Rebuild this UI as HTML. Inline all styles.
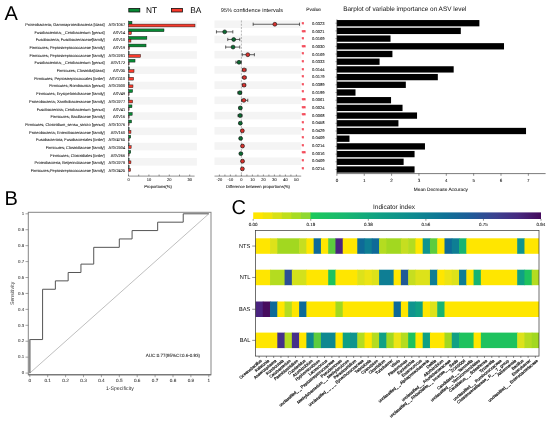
<!DOCTYPE html>
<html><head><meta charset="utf-8"><title>Figure</title>
<style>html,body{margin:0;padding:0;background:#fff}svg{display:block}text{font-family:"Liberation Sans",sans-serif;text-rendering:geometricPrecision}</style>
</head><body>
<svg width="550" height="421" viewBox="0 0 550 421">
<rect width="550" height="421" fill="#fff"/>
<text x="4.60" y="20.20" font-size="20" text-anchor="start" fill="#000" >A</text>
<text x="4.40" y="205.20" font-size="20" text-anchor="start" fill="#000" >B</text>
<text x="231.60" y="214.40" font-size="20" text-anchor="start" fill="#000" >C</text>
<rect x="128.8" y="8.4" width="11.0" height="3.6" fill="#078a34" stroke="#111" stroke-width="0.8"/>
<text x="146.00" y="12.50" font-size="8.3" text-anchor="start" fill="#000" >NT</text>
<rect x="171.4" y="8.4" width="11.0" height="3.6" fill="#f83a2c" stroke="#111" stroke-width="0.8"/>
<text x="190.30" y="12.50" font-size="8.3" text-anchor="start" fill="#000" >BA</text>
<text x="220.80" y="11.60" font-size="5.6" text-anchor="start" fill="#111" >95% confidence intervals</text>
<text x="306.30" y="11.30" font-size="4.8" text-anchor="start" fill="#111"  stroke="#111" stroke-width="0.06">Pvalue</text>
<text x="343.20" y="10.80" font-size="6.42" text-anchor="start" fill="#111" >Barplot of variable importance on ASV level</text>
<rect x="128.5" y="20.70" width="68.4" height="7.6" fill="#f4f4f4"/>
<rect x="214.5" y="20.45" width="86.7" height="7.61" fill="#f4f4f4"/>
<rect x="128.5" y="35.96" width="68.4" height="7.6" fill="#f4f4f4"/>
<rect x="214.5" y="35.66" width="86.7" height="7.61" fill="#f4f4f4"/>
<rect x="128.5" y="51.22" width="68.4" height="7.6" fill="#f4f4f4"/>
<rect x="214.5" y="50.88" width="86.7" height="7.61" fill="#f4f4f4"/>
<rect x="128.5" y="66.48" width="68.4" height="7.6" fill="#f4f4f4"/>
<rect x="214.5" y="66.10" width="86.7" height="7.61" fill="#f4f4f4"/>
<rect x="128.5" y="81.74" width="68.4" height="7.6" fill="#f4f4f4"/>
<rect x="214.5" y="81.32" width="86.7" height="7.61" fill="#f4f4f4"/>
<rect x="128.5" y="97.00" width="68.4" height="7.6" fill="#f4f4f4"/>
<rect x="214.5" y="96.55" width="86.7" height="7.61" fill="#f4f4f4"/>
<rect x="128.5" y="112.26" width="68.4" height="7.6" fill="#f4f4f4"/>
<rect x="214.5" y="111.77" width="86.7" height="7.61" fill="#f4f4f4"/>
<rect x="128.5" y="127.52" width="68.4" height="7.6" fill="#f4f4f4"/>
<rect x="214.5" y="126.99" width="86.7" height="7.61" fill="#f4f4f4"/>
<rect x="128.5" y="142.78" width="68.4" height="7.6" fill="#f4f4f4"/>
<rect x="214.5" y="142.20" width="86.7" height="7.61" fill="#f4f4f4"/>
<rect x="128.5" y="158.04" width="68.4" height="7.6" fill="#f4f4f4"/>
<rect x="214.5" y="157.43" width="86.7" height="7.61" fill="#f4f4f4"/>
<line x1="241.4" y1="20.45" x2="241.4" y2="176.1" stroke="#888" stroke-width="0.6" stroke-dasharray="2 1.3"/>
<text x="104.60" y="25.85" font-size="3.95" text-anchor="end" fill="#111"  stroke="#111" stroke-width="0.06">Proteobacteria; Gammaproteobacteria [class]</text>
<text x="125.20" y="25.85" font-size="3.95" text-anchor="end" fill="#111"  stroke="#111" stroke-width="0.06">ASV1067</text>
<rect x="128.5" y="21.30" width="3.47" height="2.8" fill="#078a34" stroke="#111" stroke-width="0.45"/>
<rect x="128.5" y="24.10" width="66.50" height="2.8" fill="#f83a2c" stroke="#111" stroke-width="0.45"/>
<path d="M253.17 24.25H299.48M253.17 22.65v3.2M299.48 22.65v3.2" stroke="#222" stroke-width="0.7" fill="none"/>
<circle cx="274.84" cy="24.25" r="1.95" fill="#d8322e" stroke="#111" stroke-width="0.6"/>
<text x="301.70" y="25.95" font-size="5.6" text-anchor="start" fill="#f23848" font-weight="bold" stroke="#f23848" stroke-width="0.25" letter-spacing="-0.3">*</text>
<text x="312.00" y="25.20" font-size="4.15" text-anchor="start" fill="#111"  stroke="#111" stroke-width="0.06">0.0323</text>
<rect x="336.9" y="20.05" width="142.49" height="6.3" fill="#000"/>
<line x1="335.4" y1="23.20" x2="336.9" y2="23.20" stroke="#222" stroke-width="0.4"/>
<text x="104.60" y="33.55" font-size="3.95" text-anchor="end" fill="#111"  stroke="#111" stroke-width="0.06">Fusobacteriota; _Cetobacterium [genus]</text>
<text x="125.20" y="33.55" font-size="3.95" text-anchor="end" fill="#111"  stroke="#111" stroke-width="0.06">ASV14</text>
<rect x="128.5" y="28.90" width="35.50" height="2.8" fill="#078a34" stroke="#111" stroke-width="0.45"/>
<rect x="128.5" y="31.70" width="2.86" height="2.8" fill="#f83a2c" stroke="#111" stroke-width="0.45"/>
<path d="M216.43 31.86H232.82M216.43 30.26v3.2M232.82 30.26v3.2" stroke="#222" stroke-width="0.7" fill="none"/>
<circle cx="224.68" cy="31.86" r="1.95" fill="#0b6a31" stroke="#111" stroke-width="0.6"/>
<text x="301.70" y="33.56" font-size="5.6" text-anchor="start" fill="#f23848" font-weight="bold" stroke="#f23848" stroke-width="0.25" letter-spacing="-0.3">**</text>
<text x="312.00" y="32.81" font-size="4.15" text-anchor="start" fill="#111"  stroke="#111" stroke-width="0.06">0.0021</text>
<rect x="336.9" y="27.75" width="123.90" height="6.3" fill="#000"/>
<line x1="335.4" y1="30.90" x2="336.9" y2="30.90" stroke="#222" stroke-width="0.4"/>
<text x="104.60" y="41.25" font-size="3.95" text-anchor="end" fill="#111"  stroke="#111" stroke-width="0.06">Fusobacteria; Fusobacteriaceae[family]</text>
<text x="125.20" y="41.25" font-size="3.95" text-anchor="end" fill="#111"  stroke="#111" stroke-width="0.06">ASV10</text>
<rect x="128.5" y="36.50" width="18.36" height="2.8" fill="#078a34" stroke="#111" stroke-width="0.45"/>
<rect x="128.5" y="39.30" width="2.45" height="2.8" fill="#f83a2c" stroke="#111" stroke-width="0.45"/>
<path d="M227.76 39.47H239.75M227.76 37.87v3.2M239.75 37.87v3.2" stroke="#222" stroke-width="0.7" fill="none"/>
<circle cx="233.70" cy="39.47" r="1.95" fill="#0b6a31" stroke="#111" stroke-width="0.6"/>
<text x="301.70" y="41.17" font-size="5.6" text-anchor="start" fill="#f23848" font-weight="bold" stroke="#f23848" stroke-width="0.25" letter-spacing="-0.3">*</text>
<text x="312.00" y="40.42" font-size="4.15" text-anchor="start" fill="#111"  stroke="#111" stroke-width="0.06">0.0169</text>
<rect x="336.9" y="35.45" width="53.61" height="6.3" fill="#000"/>
<line x1="335.4" y1="38.60" x2="336.9" y2="38.60" stroke="#222" stroke-width="0.4"/>
<text x="104.60" y="48.95" font-size="3.95" text-anchor="end" fill="#111"  stroke="#111" stroke-width="0.06">Firmicutes; Peptostreptococcaceae [family]</text>
<text x="125.20" y="48.95" font-size="3.95" text-anchor="end" fill="#111"  stroke="#111" stroke-width="0.06">ASV19</text>
<rect x="128.5" y="44.10" width="17.54" height="2.8" fill="#078a34" stroke="#111" stroke-width="0.45"/>
<rect x="128.5" y="46.90" width="0.82" height="2.8" fill="#f83a2c" stroke="#111" stroke-width="0.45"/>
<path d="M225.67 47.08H239.75M225.67 45.48v3.2M239.75 45.48v3.2" stroke="#222" stroke-width="0.7" fill="none"/>
<circle cx="233.04" cy="47.08" r="1.95" fill="#0b6a31" stroke="#111" stroke-width="0.6"/>
<text x="301.70" y="48.78" font-size="5.6" text-anchor="start" fill="#f23848" font-weight="bold" stroke="#f23848" stroke-width="0.25" letter-spacing="-0.3">**</text>
<text x="312.00" y="48.03" font-size="4.15" text-anchor="start" fill="#111"  stroke="#111" stroke-width="0.06">0.0030</text>
<rect x="336.9" y="43.15" width="167.11" height="6.3" fill="#000"/>
<line x1="335.4" y1="46.30" x2="336.9" y2="46.30" stroke="#222" stroke-width="0.4"/>
<text x="104.60" y="56.65" font-size="3.95" text-anchor="end" fill="#111"  stroke="#111" stroke-width="0.06">Firmicutes; Peptostreptococcaceae [family]</text>
<text x="125.20" y="56.65" font-size="3.95" text-anchor="end" fill="#111"  stroke="#111" stroke-width="0.06">ASV2281</text>
<rect x="128.5" y="51.70" width="0.61" height="2.8" fill="#078a34" stroke="#111" stroke-width="0.45"/>
<rect x="128.5" y="54.50" width="12.04" height="2.8" fill="#f83a2c" stroke="#111" stroke-width="0.45"/>
<path d="M242.28 54.69H254.38M242.28 53.09v3.2M254.38 53.09v3.2" stroke="#222" stroke-width="0.7" fill="none"/>
<circle cx="247.78" cy="54.69" r="1.95" fill="#d8322e" stroke="#111" stroke-width="0.6"/>
<text x="301.70" y="56.39" font-size="5.6" text-anchor="start" fill="#f23848" font-weight="bold" stroke="#f23848" stroke-width="0.25" letter-spacing="-0.3">*</text>
<text x="312.00" y="55.64" font-size="4.15" text-anchor="start" fill="#111"  stroke="#111" stroke-width="0.06">0.0169</text>
<rect x="336.9" y="50.85" width="55.52" height="6.3" fill="#000"/>
<line x1="335.4" y1="54.00" x2="336.9" y2="54.00" stroke="#222" stroke-width="0.4"/>
<text x="104.60" y="64.35" font-size="3.95" text-anchor="end" fill="#111"  stroke="#111" stroke-width="0.06">Fusobacteriota; _Cetobacterium [genus]</text>
<text x="125.20" y="64.35" font-size="3.95" text-anchor="end" fill="#111"  stroke="#111" stroke-width="0.06">ASV172</text>
<rect x="128.5" y="59.30" width="6.53" height="2.8" fill="#078a34" stroke="#111" stroke-width="0.45"/>
<rect x="128.5" y="62.10" width="0.61" height="2.8" fill="#f83a2c" stroke="#111" stroke-width="0.45"/>
<path d="M235.90 62.30H241.29M235.90 60.70v3.2M241.29 60.70v3.2" stroke="#222" stroke-width="0.7" fill="none"/>
<circle cx="238.98" cy="62.30" r="1.95" fill="#0b6a31" stroke="#111" stroke-width="0.6"/>
<text x="301.70" y="64.00" font-size="5.6" text-anchor="start" fill="#f23848" font-weight="bold" stroke="#f23848" stroke-width="0.25" letter-spacing="-0.3">*</text>
<text x="312.00" y="63.25" font-size="4.15" text-anchor="start" fill="#111"  stroke="#111" stroke-width="0.06">0.0333</text>
<rect x="336.9" y="58.55" width="42.67" height="6.3" fill="#000"/>
<line x1="335.4" y1="61.70" x2="336.9" y2="61.70" stroke="#222" stroke-width="0.4"/>
<text x="104.60" y="72.05" font-size="3.95" text-anchor="end" fill="#111"  stroke="#111" stroke-width="0.06">Firmicutes; Clostridia[class]</text>
<text x="125.20" y="72.05" font-size="3.95" text-anchor="end" fill="#111"  stroke="#111" stroke-width="0.06">ASV35</text>
<rect x="128.5" y="66.90" width="0.82" height="2.8" fill="#078a34" stroke="#111" stroke-width="0.45"/>
<rect x="128.5" y="69.70" width="5.51" height="2.8" fill="#f83a2c" stroke="#111" stroke-width="0.45"/>
<path d="M242.50 69.91H246.02M242.50 68.31v3.2M246.02 68.31v3.2" stroke="#222" stroke-width="0.7" fill="none"/>
<circle cx="244.15" cy="69.91" r="1.95" fill="#d8322e" stroke="#111" stroke-width="0.6"/>
<text x="301.70" y="71.61" font-size="5.6" text-anchor="start" fill="#f23848" font-weight="bold" stroke="#f23848" stroke-width="0.25" letter-spacing="-0.3">*</text>
<text x="312.00" y="70.86" font-size="4.15" text-anchor="start" fill="#111"  stroke="#111" stroke-width="0.06">0.0144</text>
<rect x="336.9" y="66.25" width="116.78" height="6.3" fill="#000"/>
<line x1="335.4" y1="69.40" x2="336.9" y2="69.40" stroke="#222" stroke-width="0.4"/>
<text x="104.60" y="79.75" font-size="3.95" text-anchor="end" fill="#111"  stroke="#111" stroke-width="0.06">Firmicutes; Peptostreptococcales [order]</text>
<text x="125.20" y="79.75" font-size="3.95" text-anchor="end" fill="#111"  stroke="#111" stroke-width="0.06">ASV1110</text>
<rect x="128.5" y="74.50" width="0.61" height="2.8" fill="#078a34" stroke="#111" stroke-width="0.45"/>
<rect x="128.5" y="77.30" width="5.10" height="2.8" fill="#f83a2c" stroke="#111" stroke-width="0.45"/>
<path d="M242.72 77.52H246.02M242.72 75.92v3.2M246.02 75.92v3.2" stroke="#222" stroke-width="0.7" fill="none"/>
<circle cx="244.37" cy="77.52" r="1.95" fill="#d8322e" stroke="#111" stroke-width="0.6"/>
<text x="301.70" y="79.22" font-size="5.6" text-anchor="start" fill="#f23848" font-weight="bold" stroke="#f23848" stroke-width="0.25" letter-spacing="-0.3">*</text>
<text x="312.00" y="78.47" font-size="4.15" text-anchor="start" fill="#111"  stroke="#111" stroke-width="0.06">0.0179</text>
<rect x="336.9" y="73.95" width="100.92" height="6.3" fill="#000"/>
<line x1="335.4" y1="77.10" x2="336.9" y2="77.10" stroke="#222" stroke-width="0.4"/>
<text x="104.60" y="87.45" font-size="3.95" text-anchor="end" fill="#111"  stroke="#111" stroke-width="0.06">Firmicutes; Romboutsia [genus]</text>
<text x="125.20" y="87.45" font-size="3.95" text-anchor="end" fill="#111"  stroke="#111" stroke-width="0.06">ASV2300</text>
<rect x="128.5" y="82.10" width="0.61" height="2.8" fill="#078a34" stroke="#111" stroke-width="0.45"/>
<rect x="128.5" y="84.90" width="4.49" height="2.8" fill="#f83a2c" stroke="#111" stroke-width="0.45"/>
<path d="M242.50 85.13H245.58M242.50 83.53v3.2M245.58 83.53v3.2" stroke="#222" stroke-width="0.7" fill="none"/>
<circle cx="244.04" cy="85.13" r="1.95" fill="#d8322e" stroke="#111" stroke-width="0.6"/>
<text x="301.70" y="86.83" font-size="5.6" text-anchor="start" fill="#f23848" font-weight="bold" stroke="#f23848" stroke-width="0.25" letter-spacing="-0.3">*</text>
<text x="312.00" y="86.08" font-size="4.15" text-anchor="start" fill="#111"  stroke="#111" stroke-width="0.06">0.0389</text>
<rect x="336.9" y="81.65" width="68.92" height="6.3" fill="#000"/>
<line x1="335.4" y1="84.80" x2="336.9" y2="84.80" stroke="#222" stroke-width="0.4"/>
<text x="104.60" y="95.15" font-size="3.95" text-anchor="end" fill="#111"  stroke="#111" stroke-width="0.06">Firmicutes; Erysipelotrichaceae [family]</text>
<text x="125.20" y="95.15" font-size="3.95" text-anchor="end" fill="#111"  stroke="#111" stroke-width="0.06">ASV49</text>
<rect x="128.5" y="89.70" width="4.08" height="2.8" fill="#078a34" stroke="#111" stroke-width="0.45"/>
<rect x="128.5" y="92.50" width="0.60" height="2.8" fill="#f83a2c" stroke="#111" stroke-width="0.45"/>
<path d="M237.88 92.74H241.62M237.88 91.14v3.2M241.62 91.14v3.2" stroke="#222" stroke-width="0.7" fill="none"/>
<circle cx="239.86" cy="92.74" r="1.95" fill="#0b6a31" stroke="#111" stroke-width="0.6"/>
<text x="301.70" y="94.44" font-size="5.6" text-anchor="start" fill="#f23848" font-weight="bold" stroke="#f23848" stroke-width="0.25" letter-spacing="-0.3">*</text>
<text x="312.00" y="93.69" font-size="4.15" text-anchor="start" fill="#111"  stroke="#111" stroke-width="0.06">0.0199</text>
<rect x="336.9" y="89.35" width="18.60" height="6.3" fill="#000"/>
<line x1="335.4" y1="92.50" x2="336.9" y2="92.50" stroke="#222" stroke-width="0.4"/>
<text x="104.60" y="102.85" font-size="3.95" text-anchor="end" fill="#111"  stroke="#111" stroke-width="0.06">Proteobacteria; Xanthobacteraceae [family]</text>
<text x="125.20" y="102.85" font-size="3.95" text-anchor="end" fill="#111"  stroke="#111" stroke-width="0.06">ASV2277</text>
<rect x="128.5" y="97.30" width="0.60" height="2.8" fill="#078a34" stroke="#111" stroke-width="0.45"/>
<rect x="128.5" y="100.10" width="4.08" height="2.8" fill="#f83a2c" stroke="#111" stroke-width="0.45"/>
<path d="M241.62 100.35H247.78M241.62 98.75v3.2M247.78 98.75v3.2" stroke="#222" stroke-width="0.7" fill="none"/>
<circle cx="243.82" cy="100.35" r="1.95" fill="#d8322e" stroke="#111" stroke-width="0.6"/>
<text x="301.70" y="102.05" font-size="5.6" text-anchor="start" fill="#f23848" font-weight="bold" stroke="#f23848" stroke-width="0.25" letter-spacing="-0.3">**</text>
<text x="312.00" y="101.30" font-size="4.15" text-anchor="start" fill="#111"  stroke="#111" stroke-width="0.06">0.0061</text>
<rect x="336.9" y="97.05" width="54.15" height="6.3" fill="#000"/>
<line x1="335.4" y1="100.20" x2="336.9" y2="100.20" stroke="#222" stroke-width="0.4"/>
<text x="104.60" y="110.55" font-size="3.95" text-anchor="end" fill="#111"  stroke="#111" stroke-width="0.06">Fusobacteriota; Cetobacterium [genus]</text>
<text x="125.20" y="110.55" font-size="3.95" text-anchor="end" fill="#111"  stroke="#111" stroke-width="0.06">ASV41</text>
<rect x="128.5" y="104.90" width="3.47" height="2.8" fill="#078a34" stroke="#111" stroke-width="0.45"/>
<rect x="128.5" y="107.70" width="0.60" height="2.8" fill="#f83a2c" stroke="#111" stroke-width="0.45"/>
<path d="M238.98 107.96H241.62M238.98 106.36v3.2M241.62 106.36v3.2" stroke="#222" stroke-width="0.7" fill="none"/>
<circle cx="240.36" cy="107.96" r="1.95" fill="#0b6a31" stroke="#111" stroke-width="0.6"/>
<text x="301.70" y="109.66" font-size="5.6" text-anchor="start" fill="#f23848" font-weight="bold" stroke="#f23848" stroke-width="0.25" letter-spacing="-0.3">**</text>
<text x="312.00" y="108.91" font-size="4.15" text-anchor="start" fill="#111"  stroke="#111" stroke-width="0.06">0.0024</text>
<rect x="336.9" y="104.75" width="65.64" height="6.3" fill="#000"/>
<line x1="335.4" y1="107.90" x2="336.9" y2="107.90" stroke="#222" stroke-width="0.4"/>
<text x="104.60" y="118.25" font-size="3.95" text-anchor="end" fill="#111"  stroke="#111" stroke-width="0.06">Firmicutes; Bacillaceae [family]</text>
<text x="125.20" y="118.25" font-size="3.95" text-anchor="end" fill="#111"  stroke="#111" stroke-width="0.06">ASV16</text>
<rect x="128.5" y="112.50" width="3.67" height="2.8" fill="#078a34" stroke="#111" stroke-width="0.45"/>
<rect x="128.5" y="115.30" width="0.60" height="2.8" fill="#f83a2c" stroke="#111" stroke-width="0.45"/>
<path d="M238.10 115.57H242.06M238.10 113.97v3.2M242.06 113.97v3.2" stroke="#222" stroke-width="0.7" fill="none"/>
<circle cx="240.08" cy="115.57" r="1.95" fill="#0b6a31" stroke="#111" stroke-width="0.6"/>
<text x="301.70" y="117.27" font-size="5.6" text-anchor="start" fill="#f23848" font-weight="bold" stroke="#f23848" stroke-width="0.25" letter-spacing="-0.3">**</text>
<text x="312.00" y="116.52" font-size="4.15" text-anchor="start" fill="#111"  stroke="#111" stroke-width="0.06">0.0068</text>
<rect x="336.9" y="112.45" width="80.14" height="6.3" fill="#000"/>
<line x1="335.4" y1="115.60" x2="336.9" y2="115.60" stroke="#222" stroke-width="0.4"/>
<text x="104.60" y="125.95" font-size="3.95" text-anchor="end" fill="#111"  stroke="#111" stroke-width="0.06">Firmicutes; Clostridium_sensu_stricto [genus]</text>
<text x="125.20" y="125.95" font-size="3.95" text-anchor="end" fill="#111"  stroke="#111" stroke-width="0.06">ASV1076</text>
<rect x="128.5" y="120.10" width="3.06" height="2.8" fill="#078a34" stroke="#111" stroke-width="0.45"/>
<rect x="128.5" y="122.90" width="0.60" height="2.8" fill="#f83a2c" stroke="#111" stroke-width="0.45"/>
<path d="M239.20 123.18H241.51M239.20 121.58v3.2M241.51 121.58v3.2" stroke="#222" stroke-width="0.7" fill="none"/>
<circle cx="240.36" cy="123.18" r="1.95" fill="#0b6a31" stroke="#111" stroke-width="0.6"/>
<text x="301.70" y="124.88" font-size="5.6" text-anchor="start" fill="#f23848" font-weight="bold" stroke="#f23848" stroke-width="0.25" letter-spacing="-0.3">*</text>
<text x="312.00" y="124.13" font-size="4.15" text-anchor="start" fill="#111"  stroke="#111" stroke-width="0.06">0.0458</text>
<rect x="336.9" y="120.15" width="61.54" height="6.3" fill="#000"/>
<line x1="335.4" y1="123.30" x2="336.9" y2="123.30" stroke="#222" stroke-width="0.4"/>
<text x="104.60" y="133.65" font-size="3.95" text-anchor="end" fill="#111"  stroke="#111" stroke-width="0.06">Proteobacteria; Enterobacteriaceae [family]</text>
<text x="125.20" y="133.65" font-size="3.95" text-anchor="end" fill="#111"  stroke="#111" stroke-width="0.06">ASV160</text>
<rect x="128.5" y="127.70" width="0.61" height="2.8" fill="#078a34" stroke="#111" stroke-width="0.45"/>
<rect x="128.5" y="130.50" width="2.45" height="2.8" fill="#f83a2c" stroke="#111" stroke-width="0.45"/>
<path d="M241.29 130.79H243.49M241.29 129.19v3.2M243.49 129.19v3.2" stroke="#222" stroke-width="0.7" fill="none"/>
<circle cx="242.35" cy="130.79" r="1.95" fill="#d8322e" stroke="#111" stroke-width="0.6"/>
<text x="301.70" y="132.49" font-size="5.6" text-anchor="start" fill="#f23848" font-weight="bold" stroke="#f23848" stroke-width="0.25" letter-spacing="-0.3">*</text>
<text x="312.00" y="131.74" font-size="4.15" text-anchor="start" fill="#111"  stroke="#111" stroke-width="0.06">0.0429</text>
<rect x="336.9" y="127.85" width="189.13" height="6.3" fill="#000"/>
<line x1="335.4" y1="131.00" x2="336.9" y2="131.00" stroke="#222" stroke-width="0.4"/>
<text x="104.60" y="141.35" font-size="3.95" text-anchor="end" fill="#111"  stroke="#111" stroke-width="0.06">Fusobacteriota; Fusobacteriales [order]</text>
<text x="125.20" y="141.35" font-size="3.95" text-anchor="end" fill="#111"  stroke="#111" stroke-width="0.06">ASV4765</text>
<rect x="128.5" y="135.30" width="2.24" height="2.8" fill="#078a34" stroke="#111" stroke-width="0.45"/>
<rect x="128.5" y="138.10" width="0.60" height="2.8" fill="#f83a2c" stroke="#111" stroke-width="0.45"/>
<path d="M239.64 138.40H241.51M239.64 136.80v3.2M241.51 136.80v3.2" stroke="#222" stroke-width="0.7" fill="none"/>
<circle cx="240.63" cy="138.40" r="1.95" fill="#0b6a31" stroke="#111" stroke-width="0.6"/>
<text x="301.70" y="140.10" font-size="5.6" text-anchor="start" fill="#f23848" font-weight="bold" stroke="#f23848" stroke-width="0.25" letter-spacing="-0.3">*</text>
<text x="312.00" y="139.35" font-size="4.15" text-anchor="start" fill="#111"  stroke="#111" stroke-width="0.06">0.0409</text>
<rect x="336.9" y="135.55" width="12.58" height="6.3" fill="#000"/>
<line x1="335.4" y1="138.70" x2="336.9" y2="138.70" stroke="#222" stroke-width="0.4"/>
<text x="104.60" y="149.05" font-size="3.95" text-anchor="end" fill="#111"  stroke="#111" stroke-width="0.06">Firmicutes; Clostridiaceae [family]</text>
<text x="125.20" y="149.05" font-size="3.95" text-anchor="end" fill="#111"  stroke="#111" stroke-width="0.06">ASV2304</text>
<rect x="128.5" y="142.90" width="0.60" height="2.8" fill="#078a34" stroke="#111" stroke-width="0.45"/>
<rect x="128.5" y="145.70" width="2.65" height="2.8" fill="#f83a2c" stroke="#111" stroke-width="0.45"/>
<path d="M241.40 146.01H243.60M241.40 144.41v3.2M243.60 144.41v3.2" stroke="#222" stroke-width="0.7" fill="none"/>
<circle cx="242.50" cy="146.01" r="1.95" fill="#d8322e" stroke="#111" stroke-width="0.6"/>
<text x="301.70" y="147.71" font-size="5.6" text-anchor="start" fill="#f23848" font-weight="bold" stroke="#f23848" stroke-width="0.25" letter-spacing="-0.3">*</text>
<text x="312.00" y="146.96" font-size="4.15" text-anchor="start" fill="#111"  stroke="#111" stroke-width="0.06">0.0214</text>
<rect x="336.9" y="143.25" width="88.07" height="6.3" fill="#000"/>
<line x1="335.4" y1="146.40" x2="336.9" y2="146.40" stroke="#222" stroke-width="0.4"/>
<text x="104.60" y="156.75" font-size="3.95" text-anchor="end" fill="#111"  stroke="#111" stroke-width="0.06">Firmicutes; Clostridiales [order]</text>
<text x="125.20" y="156.75" font-size="3.95" text-anchor="end" fill="#111"  stroke="#111" stroke-width="0.06">ASV266</text>
<rect x="128.5" y="150.50" width="2.24" height="2.8" fill="#078a34" stroke="#111" stroke-width="0.45"/>
<rect x="128.5" y="153.30" width="0.61" height="2.8" fill="#f83a2c" stroke="#111" stroke-width="0.45"/>
<path d="M239.86 153.62H241.73M239.86 152.02v3.2M241.73 152.02v3.2" stroke="#222" stroke-width="0.7" fill="none"/>
<circle cx="240.85" cy="153.62" r="1.95" fill="#0b6a31" stroke="#111" stroke-width="0.6"/>
<text x="301.70" y="155.32" font-size="5.6" text-anchor="start" fill="#f23848" font-weight="bold" stroke="#f23848" stroke-width="0.25" letter-spacing="-0.3">**</text>
<text x="312.00" y="154.57" font-size="4.15" text-anchor="start" fill="#111"  stroke="#111" stroke-width="0.06">0.0016</text>
<rect x="336.9" y="150.95" width="77.67" height="6.3" fill="#000"/>
<line x1="335.4" y1="154.10" x2="336.9" y2="154.10" stroke="#222" stroke-width="0.4"/>
<text x="104.60" y="164.45" font-size="3.95" text-anchor="end" fill="#111"  stroke="#111" stroke-width="0.06">Proteobacteria; Beijerinckiaceae [family]</text>
<text x="125.20" y="164.45" font-size="3.95" text-anchor="end" fill="#111"  stroke="#111" stroke-width="0.06">ASV2278</text>
<rect x="128.5" y="158.10" width="0.60" height="2.8" fill="#078a34" stroke="#111" stroke-width="0.45"/>
<rect x="128.5" y="160.90" width="2.45" height="2.8" fill="#f83a2c" stroke="#111" stroke-width="0.45"/>
<path d="M241.40 161.23H243.71M241.40 159.63v3.2M243.71 159.63v3.2" stroke="#222" stroke-width="0.7" fill="none"/>
<circle cx="242.50" cy="161.23" r="1.95" fill="#d8322e" stroke="#111" stroke-width="0.6"/>
<text x="301.70" y="162.93" font-size="5.6" text-anchor="start" fill="#f23848" font-weight="bold" stroke="#f23848" stroke-width="0.25" letter-spacing="-0.3">*</text>
<text x="312.00" y="162.18" font-size="4.15" text-anchor="start" fill="#111"  stroke="#111" stroke-width="0.06">0.0409</text>
<rect x="336.9" y="158.65" width="66.73" height="6.3" fill="#000"/>
<line x1="335.4" y1="161.80" x2="336.9" y2="161.80" stroke="#222" stroke-width="0.4"/>
<text x="104.60" y="172.15" font-size="3.95" text-anchor="end" fill="#111"  stroke="#111" stroke-width="0.06">Firmicutes;Peptostreptococcaceae [family]</text>
<text x="125.20" y="172.15" font-size="3.95" text-anchor="end" fill="#111"  stroke="#111" stroke-width="0.06">ASV2425</text>
<rect x="128.5" y="165.70" width="0.60" height="2.8" fill="#078a34" stroke="#111" stroke-width="0.45"/>
<rect x="128.5" y="168.50" width="2.04" height="2.8" fill="#f83a2c" stroke="#111" stroke-width="0.45"/>
<path d="M241.40 168.84H243.38M241.40 167.24v3.2M243.38 167.24v3.2" stroke="#222" stroke-width="0.7" fill="none"/>
<circle cx="242.39" cy="168.84" r="1.95" fill="#d8322e" stroke="#111" stroke-width="0.6"/>
<text x="301.70" y="170.54" font-size="5.6" text-anchor="start" fill="#f23848" font-weight="bold" stroke="#f23848" stroke-width="0.25" letter-spacing="-0.3">*</text>
<text x="312.00" y="169.79" font-size="4.15" text-anchor="start" fill="#111"  stroke="#111" stroke-width="0.06">0.0214</text>
<rect x="336.9" y="166.35" width="77.67" height="6.3" fill="#000"/>
<line x1="335.4" y1="169.50" x2="336.9" y2="169.50" stroke="#222" stroke-width="0.4"/>
<path d="M128.5 20.45V176.1" stroke="#556" stroke-width="0.4" fill="none"/>
<path d="M128.5 176.1H194.6" stroke="#222" stroke-width="0.5" fill="none"/>
<line x1="128.50" y1="176.1" x2="128.50" y2="174.5" stroke="#222" stroke-width="0.45"/>
<text x="128.50" y="180.80" font-size="4.0" text-anchor="middle" fill="#111"  stroke="#111" stroke-width="0.06">0</text>
<line x1="138.70" y1="176.1" x2="138.70" y2="174.5" stroke="#222" stroke-width="0.45"/>
<line x1="148.90" y1="176.1" x2="148.90" y2="174.5" stroke="#222" stroke-width="0.45"/>
<text x="148.90" y="180.80" font-size="4.0" text-anchor="middle" fill="#111"  stroke="#111" stroke-width="0.06">10</text>
<line x1="159.10" y1="176.1" x2="159.10" y2="174.5" stroke="#222" stroke-width="0.45"/>
<line x1="169.30" y1="176.1" x2="169.30" y2="174.5" stroke="#222" stroke-width="0.45"/>
<text x="169.30" y="180.80" font-size="4.0" text-anchor="middle" fill="#111"  stroke="#111" stroke-width="0.06">20</text>
<line x1="179.50" y1="176.1" x2="179.50" y2="174.5" stroke="#222" stroke-width="0.45"/>
<line x1="189.70" y1="176.1" x2="189.70" y2="174.5" stroke="#222" stroke-width="0.45"/>
<text x="189.70" y="180.80" font-size="4.0" text-anchor="middle" fill="#111"  stroke="#111" stroke-width="0.06">30</text>
<text x="158.00" y="187.90" font-size="4.15" text-anchor="middle" fill="#111"  stroke="#111" stroke-width="0.06">Proportions(%)</text>
<path d="M214.5 176.1H301.2" stroke="#222" stroke-width="0.5" fill="none"/>
<line x1="219.40" y1="176.1" x2="219.40" y2="174.5" stroke="#222" stroke-width="0.45"/>
<text x="219.40" y="180.80" font-size="4.0" text-anchor="middle" fill="#111"  stroke="#111" stroke-width="0.06">-20</text>
<line x1="224.90" y1="176.1" x2="224.90" y2="174.5" stroke="#222" stroke-width="0.45"/>
<line x1="230.40" y1="176.1" x2="230.40" y2="174.5" stroke="#222" stroke-width="0.45"/>
<text x="230.40" y="180.80" font-size="4.0" text-anchor="middle" fill="#111"  stroke="#111" stroke-width="0.06">-10</text>
<line x1="235.90" y1="176.1" x2="235.90" y2="174.5" stroke="#222" stroke-width="0.45"/>
<line x1="241.40" y1="176.1" x2="241.40" y2="174.5" stroke="#222" stroke-width="0.45"/>
<text x="241.40" y="180.80" font-size="4.0" text-anchor="middle" fill="#111"  stroke="#111" stroke-width="0.06">0</text>
<line x1="246.90" y1="176.1" x2="246.90" y2="174.5" stroke="#222" stroke-width="0.45"/>
<line x1="252.40" y1="176.1" x2="252.40" y2="174.5" stroke="#222" stroke-width="0.45"/>
<text x="252.40" y="180.80" font-size="4.0" text-anchor="middle" fill="#111"  stroke="#111" stroke-width="0.06">10</text>
<line x1="257.90" y1="176.1" x2="257.90" y2="174.5" stroke="#222" stroke-width="0.45"/>
<line x1="263.40" y1="176.1" x2="263.40" y2="174.5" stroke="#222" stroke-width="0.45"/>
<text x="263.40" y="180.80" font-size="4.0" text-anchor="middle" fill="#111"  stroke="#111" stroke-width="0.06">20</text>
<line x1="268.90" y1="176.1" x2="268.90" y2="174.5" stroke="#222" stroke-width="0.45"/>
<line x1="274.40" y1="176.1" x2="274.40" y2="174.5" stroke="#222" stroke-width="0.45"/>
<text x="274.40" y="180.80" font-size="4.0" text-anchor="middle" fill="#111"  stroke="#111" stroke-width="0.06">30</text>
<line x1="279.90" y1="176.1" x2="279.90" y2="174.5" stroke="#222" stroke-width="0.45"/>
<line x1="285.40" y1="176.1" x2="285.40" y2="174.5" stroke="#222" stroke-width="0.45"/>
<text x="285.40" y="180.80" font-size="4.0" text-anchor="middle" fill="#111"  stroke="#111" stroke-width="0.06">40</text>
<line x1="290.90" y1="176.1" x2="290.90" y2="174.5" stroke="#222" stroke-width="0.45"/>
<line x1="296.40" y1="176.1" x2="296.40" y2="174.5" stroke="#222" stroke-width="0.45"/>
<text x="296.40" y="180.80" font-size="4.0" text-anchor="middle" fill="#111"  stroke="#111" stroke-width="0.06">50</text>
<text x="258.00" y="187.90" font-size="4.15" text-anchor="middle" fill="#111"  stroke="#111" stroke-width="0.06">Difference between proportions(%)</text>
<path d="M336.9 19.5V173.6H545.6" stroke="#222" stroke-width="0.6" fill="none"/>
<line x1="336.90" y1="173.6" x2="336.90" y2="175.8" stroke="#222" stroke-width="0.5"/>
<text x="336.90" y="181.70" font-size="4.5" text-anchor="middle" fill="#111"  stroke="#111" stroke-width="0.06">0</text>
<line x1="364.25" y1="173.6" x2="364.25" y2="175.8" stroke="#222" stroke-width="0.5"/>
<text x="364.25" y="181.70" font-size="4.5" text-anchor="middle" fill="#111"  stroke="#111" stroke-width="0.06">1</text>
<line x1="391.60" y1="173.6" x2="391.60" y2="175.8" stroke="#222" stroke-width="0.5"/>
<text x="391.60" y="181.70" font-size="4.5" text-anchor="middle" fill="#111"  stroke="#111" stroke-width="0.06">2</text>
<line x1="418.95" y1="173.6" x2="418.95" y2="175.8" stroke="#222" stroke-width="0.5"/>
<text x="418.95" y="181.70" font-size="4.5" text-anchor="middle" fill="#111"  stroke="#111" stroke-width="0.06">3</text>
<line x1="446.30" y1="173.6" x2="446.30" y2="175.8" stroke="#222" stroke-width="0.5"/>
<text x="446.30" y="181.70" font-size="4.5" text-anchor="middle" fill="#111"  stroke="#111" stroke-width="0.06">4</text>
<line x1="473.65" y1="173.6" x2="473.65" y2="175.8" stroke="#222" stroke-width="0.5"/>
<text x="473.65" y="181.70" font-size="4.5" text-anchor="middle" fill="#111"  stroke="#111" stroke-width="0.06">5</text>
<line x1="501.00" y1="173.6" x2="501.00" y2="175.8" stroke="#222" stroke-width="0.5"/>
<text x="501.00" y="181.70" font-size="4.5" text-anchor="middle" fill="#111"  stroke="#111" stroke-width="0.06">6</text>
<line x1="528.35" y1="173.6" x2="528.35" y2="175.8" stroke="#222" stroke-width="0.5"/>
<text x="528.35" y="181.70" font-size="4.5" text-anchor="middle" fill="#111"  stroke="#111" stroke-width="0.06">7</text>
<text x="440.90" y="191.10" font-size="4.75" text-anchor="middle" fill="#111"  stroke="#111" stroke-width="0.06">Mean Decrease Accuracy</text>
<rect x="28.3" y="212.3" width="182.7" height="162.5" fill="none" stroke="#858585" stroke-width="1.0"/>
<line x1="29.8" y1="373.1" x2="208.8" y2="213.8" stroke="#8a8a8a" stroke-width="0.55"/>
<line x1="28.3" y1="374.8" x2="211.0" y2="374.8" stroke="#6a6a6a" stroke-width="1.1"/>
<path d="M29.80 373.10 L29.80 339.56 L42.59 339.56 L42.59 289.26 L55.37 289.26 L55.37 280.87 L68.16 280.87 L68.16 272.49 L80.94 272.49 L80.94 264.11 L93.73 264.11 L93.73 247.34 L119.30 247.34 L119.30 238.95 L132.09 238.95 L132.09 230.57 L157.66 230.57 L157.66 222.18 L183.23 222.18 L183.23 213.80 L208.80 213.80" fill="none" stroke="#555" stroke-width="1.0" stroke-linejoin="miter"/>
<line x1="29.6" y1="373.1" x2="29.6" y2="339.56" stroke="#8a8a8a" stroke-width="1.6"/>
<line x1="25.5" y1="373.10" x2="28.3" y2="373.10" stroke="#666" stroke-width="0.6"/>
<text x="24.10" y="374.30" font-size="4.4" text-anchor="end" fill="#333"  stroke="#333" stroke-width="0.06">0</text>
<line x1="29.80" y1="374.8" x2="29.80" y2="377.2" stroke="#666" stroke-width="0.6"/>
<text x="29.80" y="381.60" font-size="4.7" text-anchor="middle" fill="#333"  stroke="#333" stroke-width="0.06">0</text>
<line x1="25.5" y1="357.17" x2="28.3" y2="357.17" stroke="#666" stroke-width="0.6"/>
<text x="24.10" y="358.37" font-size="4.4" text-anchor="end" fill="#333"  stroke="#333" stroke-width="0.06">0.1</text>
<line x1="47.70" y1="374.8" x2="47.70" y2="377.2" stroke="#666" stroke-width="0.6"/>
<text x="47.70" y="381.60" font-size="4.7" text-anchor="middle" fill="#333"  stroke="#333" stroke-width="0.06">0.1</text>
<line x1="25.5" y1="341.24" x2="28.3" y2="341.24" stroke="#666" stroke-width="0.6"/>
<text x="24.10" y="342.44" font-size="4.4" text-anchor="end" fill="#333"  stroke="#333" stroke-width="0.06">0.2</text>
<line x1="65.60" y1="374.8" x2="65.60" y2="377.2" stroke="#666" stroke-width="0.6"/>
<text x="65.60" y="381.60" font-size="4.7" text-anchor="middle" fill="#333"  stroke="#333" stroke-width="0.06">0.2</text>
<line x1="25.5" y1="325.31" x2="28.3" y2="325.31" stroke="#666" stroke-width="0.6"/>
<text x="24.10" y="326.51" font-size="4.4" text-anchor="end" fill="#333"  stroke="#333" stroke-width="0.06">0.3</text>
<line x1="83.50" y1="374.8" x2="83.50" y2="377.2" stroke="#666" stroke-width="0.6"/>
<text x="83.50" y="381.60" font-size="4.7" text-anchor="middle" fill="#333"  stroke="#333" stroke-width="0.06">0.3</text>
<line x1="25.5" y1="309.38" x2="28.3" y2="309.38" stroke="#666" stroke-width="0.6"/>
<text x="24.10" y="310.58" font-size="4.4" text-anchor="end" fill="#333"  stroke="#333" stroke-width="0.06">0.4</text>
<line x1="101.40" y1="374.8" x2="101.40" y2="377.2" stroke="#666" stroke-width="0.6"/>
<text x="101.40" y="381.60" font-size="4.7" text-anchor="middle" fill="#333"  stroke="#333" stroke-width="0.06">0.4</text>
<line x1="25.5" y1="293.45" x2="28.3" y2="293.45" stroke="#666" stroke-width="0.6"/>
<text x="24.10" y="294.65" font-size="4.4" text-anchor="end" fill="#333"  stroke="#333" stroke-width="0.06">0.5</text>
<line x1="119.30" y1="374.8" x2="119.30" y2="377.2" stroke="#666" stroke-width="0.6"/>
<text x="119.30" y="381.60" font-size="4.7" text-anchor="middle" fill="#333"  stroke="#333" stroke-width="0.06">0.5</text>
<line x1="25.5" y1="277.52" x2="28.3" y2="277.52" stroke="#666" stroke-width="0.6"/>
<text x="24.10" y="278.72" font-size="4.4" text-anchor="end" fill="#333"  stroke="#333" stroke-width="0.06">0.6</text>
<line x1="137.20" y1="374.8" x2="137.20" y2="377.2" stroke="#666" stroke-width="0.6"/>
<text x="137.20" y="381.60" font-size="4.7" text-anchor="middle" fill="#333"  stroke="#333" stroke-width="0.06">0.6</text>
<line x1="25.5" y1="261.59" x2="28.3" y2="261.59" stroke="#666" stroke-width="0.6"/>
<text x="24.10" y="262.79" font-size="4.4" text-anchor="end" fill="#333"  stroke="#333" stroke-width="0.06">0.7</text>
<line x1="155.10" y1="374.8" x2="155.10" y2="377.2" stroke="#666" stroke-width="0.6"/>
<text x="155.10" y="381.60" font-size="4.7" text-anchor="middle" fill="#333"  stroke="#333" stroke-width="0.06">0.7</text>
<line x1="25.5" y1="245.66" x2="28.3" y2="245.66" stroke="#666" stroke-width="0.6"/>
<text x="24.10" y="246.86" font-size="4.4" text-anchor="end" fill="#333"  stroke="#333" stroke-width="0.06">0.8</text>
<line x1="173.00" y1="374.8" x2="173.00" y2="377.2" stroke="#666" stroke-width="0.6"/>
<text x="173.00" y="381.60" font-size="4.7" text-anchor="middle" fill="#333"  stroke="#333" stroke-width="0.06">0.8</text>
<line x1="25.5" y1="229.73" x2="28.3" y2="229.73" stroke="#666" stroke-width="0.6"/>
<text x="24.10" y="230.93" font-size="4.4" text-anchor="end" fill="#333"  stroke="#333" stroke-width="0.06">0.9</text>
<line x1="190.90" y1="374.8" x2="190.90" y2="377.2" stroke="#666" stroke-width="0.6"/>
<text x="190.90" y="381.60" font-size="4.7" text-anchor="middle" fill="#333"  stroke="#333" stroke-width="0.06">0.9</text>
<line x1="25.5" y1="213.80" x2="28.3" y2="213.80" stroke="#666" stroke-width="0.6"/>
<text x="24.10" y="215.00" font-size="4.4" text-anchor="end" fill="#333"  stroke="#333" stroke-width="0.06">1</text>
<line x1="208.80" y1="374.8" x2="208.80" y2="377.2" stroke="#666" stroke-width="0.6"/>
<text x="208.80" y="381.60" font-size="4.7" text-anchor="middle" fill="#333"  stroke="#333" stroke-width="0.06">1</text>
<text x="119.90" y="390.30" font-size="5.2" text-anchor="middle" fill="#333" >1-Specificity</text>
<text transform="translate(13.7 293.4) rotate(-90)" font-size="5.2" text-anchor="middle" fill="#333">Sensitivity</text>
<text x="145.80" y="356.60" font-size="4.55" text-anchor="start" fill="#222"  stroke="#222" stroke-width="0.06">AUC:0.77(95%CI:0.6-0.93)</text>
<text x="394.00" y="208.90" font-size="6.45" text-anchor="middle" fill="#111" >Indicator index</text>
<defs><linearGradient id="cb" x1="0" x2="1" y1="0" y2="0">
<stop offset="0" stop-color="#1cc95a"/>
<stop offset="0.15" stop-color="#18b870"/>
<stop offset="0.3" stop-color="#10a084"/>
<stop offset="0.45" stop-color="#0e8a90"/>
<stop offset="0.58" stop-color="#0e7296"/>
<stop offset="0.7" stop-color="#1f5a98"/>
<stop offset="0.8" stop-color="#3b4290"/>
<stop offset="0.9" stop-color="#472a80"/>
<stop offset="1" stop-color="#440a5c"/>
</linearGradient></defs>
<rect x="253.20" y="212.4" width="10.15" height="6.60" fill="#ffe600"/>
<rect x="262.75" y="212.4" width="10.15" height="6.60" fill="#f0e40a"/>
<rect x="272.30" y="212.4" width="10.15" height="6.60" fill="#d8e116"/>
<rect x="281.85" y="212.4" width="10.15" height="6.60" fill="#c0df1c"/>
<rect x="291.40" y="212.4" width="10.15" height="6.60" fill="#a8dc24"/>
<rect x="300.95" y="212.4" width="10.15" height="6.60" fill="#90d830"/>
<rect x="310.5" y="212.4" width="230.50" height="6.60" fill="url(#cb)"/>
<line x1="253.20" y1="219.0" x2="253.20" y2="220.7" stroke="#222" stroke-width="0.5"/>
<text x="253.20" y="226.30" font-size="4.5" text-anchor="middle" fill="#111"  stroke="#111" stroke-width="0.06">0.00</text>
<line x1="310.76" y1="219.0" x2="310.76" y2="220.7" stroke="#222" stroke-width="0.5"/>
<text x="310.76" y="226.30" font-size="4.5" text-anchor="middle" fill="#111"  stroke="#111" stroke-width="0.06">0.19</text>
<line x1="368.32" y1="219.0" x2="368.32" y2="220.7" stroke="#222" stroke-width="0.5"/>
<text x="368.32" y="226.30" font-size="4.5" text-anchor="middle" fill="#111"  stroke="#111" stroke-width="0.06">0.38</text>
<line x1="425.88" y1="219.0" x2="425.88" y2="220.7" stroke="#222" stroke-width="0.5"/>
<text x="425.88" y="226.30" font-size="4.5" text-anchor="middle" fill="#111"  stroke="#111" stroke-width="0.06">0.56</text>
<line x1="483.44" y1="219.0" x2="483.44" y2="220.7" stroke="#222" stroke-width="0.5"/>
<text x="483.44" y="226.30" font-size="4.5" text-anchor="middle" fill="#111"  stroke="#111" stroke-width="0.06">0.75</text>
<line x1="541.00" y1="219.0" x2="541.00" y2="220.7" stroke="#222" stroke-width="0.5"/>
<text x="541.00" y="226.30" font-size="4.5" text-anchor="middle" fill="#111"  stroke="#111" stroke-width="0.06">0.94</text>
<rect x="255.50" y="238.3" width="15.14" height="15.5" fill="#ffe600"/>
<rect x="270.04" y="238.3" width="7.87" height="15.5" fill="#dde21a"/>
<rect x="277.31" y="238.3" width="22.41" height="15.5" fill="#a2d820"/>
<rect x="299.12" y="238.3" width="7.87" height="15.5" fill="#c6de20"/>
<rect x="306.38" y="238.3" width="7.87" height="15.5" fill="#ffe600"/>
<rect x="313.65" y="238.3" width="7.87" height="15.5" fill="#0e6a98"/>
<rect x="320.92" y="238.3" width="7.87" height="15.5" fill="#ffe600"/>
<rect x="328.19" y="238.3" width="7.87" height="15.5" fill="#5ccc3e"/>
<rect x="335.46" y="238.3" width="7.87" height="15.5" fill="#4a2480"/>
<rect x="342.73" y="238.3" width="15.14" height="15.5" fill="#ffe600"/>
<rect x="357.27" y="238.3" width="7.87" height="15.5" fill="#0e6a98"/>
<rect x="364.54" y="238.3" width="7.87" height="15.5" fill="#0e7e94"/>
<rect x="371.81" y="238.3" width="7.87" height="15.5" fill="#0e6a98"/>
<rect x="379.08" y="238.3" width="7.87" height="15.5" fill="#b4dc20"/>
<rect x="386.35" y="238.3" width="15.14" height="15.5" fill="#a2d820"/>
<rect x="400.88" y="238.3" width="7.87" height="15.5" fill="#c6de20"/>
<rect x="408.15" y="238.3" width="7.87" height="15.5" fill="#b4dc20"/>
<rect x="415.42" y="238.3" width="7.87" height="15.5" fill="#ffe600"/>
<rect x="422.69" y="238.3" width="7.87" height="15.5" fill="#0f948e"/>
<rect x="429.96" y="238.3" width="7.87" height="15.5" fill="#5ccc3e"/>
<rect x="437.23" y="238.3" width="7.87" height="15.5" fill="#ffe600"/>
<rect x="444.50" y="238.3" width="7.87" height="15.5" fill="#0e6a98"/>
<rect x="451.77" y="238.3" width="7.87" height="15.5" fill="#0e7e94"/>
<rect x="459.04" y="238.3" width="7.87" height="15.5" fill="#18b472"/>
<rect x="466.31" y="238.3" width="51.48" height="15.5" fill="#ffe600"/>
<rect x="517.19" y="238.3" width="7.87" height="15.5" fill="#0f948e"/>
<rect x="524.46" y="238.3" width="14.54" height="15.5" fill="#ffe600"/>
<line x1="252.2" y1="246.05" x2="255.5" y2="246.05" stroke="#222" stroke-width="0.5"/>
<text x="250.40" y="248.05" font-size="5.7" text-anchor="end" fill="#111" >NTS</text>
<rect x="255.50" y="269.7" width="15.14" height="15.5" fill="#ffe600"/>
<rect x="270.04" y="269.7" width="15.14" height="15.5" fill="#b4dc20"/>
<rect x="284.58" y="269.7" width="7.87" height="15.5" fill="#2c4f94"/>
<rect x="291.85" y="269.7" width="15.14" height="15.5" fill="#d2e11c"/>
<rect x="306.38" y="269.7" width="22.41" height="15.5" fill="#ffe600"/>
<rect x="328.19" y="269.7" width="7.87" height="15.5" fill="#1ec25e"/>
<rect x="335.46" y="269.7" width="22.41" height="15.5" fill="#ffe600"/>
<rect x="357.27" y="269.7" width="7.87" height="15.5" fill="#dde21a"/>
<rect x="364.54" y="269.7" width="7.87" height="15.5" fill="#ece414"/>
<rect x="371.81" y="269.7" width="7.87" height="15.5" fill="#dde21a"/>
<rect x="379.08" y="269.7" width="15.14" height="15.5" fill="#0e7e94"/>
<rect x="393.62" y="269.7" width="7.87" height="15.5" fill="#ffe600"/>
<rect x="400.88" y="269.7" width="7.87" height="15.5" fill="#205a96"/>
<rect x="408.15" y="269.7" width="7.87" height="15.5" fill="#c6de20"/>
<rect x="415.42" y="269.7" width="15.14" height="15.5" fill="#dde21a"/>
<rect x="429.96" y="269.7" width="7.87" height="15.5" fill="#0e7e94"/>
<rect x="437.23" y="269.7" width="7.87" height="15.5" fill="#ffe600"/>
<rect x="444.50" y="269.7" width="7.87" height="15.5" fill="#ece414"/>
<rect x="451.77" y="269.7" width="7.87" height="15.5" fill="#dde21a"/>
<rect x="459.04" y="269.7" width="7.87" height="15.5" fill="#0e7e94"/>
<rect x="466.31" y="269.7" width="7.87" height="15.5" fill="#ffe600"/>
<rect x="473.58" y="269.7" width="7.87" height="15.5" fill="#18b472"/>
<rect x="480.85" y="269.7" width="36.95" height="15.5" fill="#ffe600"/>
<rect x="517.19" y="269.7" width="7.87" height="15.5" fill="#10a084"/>
<rect x="524.46" y="269.7" width="7.87" height="15.5" fill="#1ec25e"/>
<rect x="531.73" y="269.7" width="7.27" height="15.5" fill="#b4dc20"/>
<line x1="252.2" y1="277.45" x2="255.5" y2="277.45" stroke="#222" stroke-width="0.5"/>
<text x="250.40" y="279.45" font-size="5.7" text-anchor="end" fill="#111" >NTL</text>
<rect x="255.50" y="301.5" width="7.87" height="15.5" fill="#4a2480"/>
<rect x="262.77" y="301.5" width="7.87" height="15.5" fill="#470c5e"/>
<rect x="270.04" y="301.5" width="7.87" height="15.5" fill="#0e6a98"/>
<rect x="277.31" y="301.5" width="7.87" height="15.5" fill="#ffe600"/>
<rect x="284.58" y="301.5" width="7.87" height="15.5" fill="#b4dc20"/>
<rect x="291.85" y="301.5" width="7.87" height="15.5" fill="#ffe600"/>
<rect x="299.12" y="301.5" width="7.87" height="15.5" fill="#0e6a98"/>
<rect x="306.38" y="301.5" width="29.68" height="15.5" fill="#ffe600"/>
<rect x="335.46" y="301.5" width="7.87" height="15.5" fill="#a2d820"/>
<rect x="342.73" y="301.5" width="51.48" height="15.5" fill="#ffe600"/>
<rect x="393.62" y="301.5" width="7.87" height="15.5" fill="#0e6a98"/>
<rect x="400.88" y="301.5" width="7.87" height="15.5" fill="#ffe600"/>
<rect x="408.15" y="301.5" width="7.87" height="15.5" fill="#0f948e"/>
<rect x="415.42" y="301.5" width="7.87" height="15.5" fill="#10a084"/>
<rect x="422.69" y="301.5" width="7.87" height="15.5" fill="#ffe600"/>
<rect x="429.96" y="301.5" width="7.87" height="15.5" fill="#dde21a"/>
<rect x="437.23" y="301.5" width="7.87" height="15.5" fill="#18b472"/>
<rect x="444.50" y="301.5" width="94.50" height="15.5" fill="#ffe600"/>
<line x1="252.2" y1="309.25" x2="255.5" y2="309.25" stroke="#222" stroke-width="0.5"/>
<text x="250.40" y="311.25" font-size="5.7" text-anchor="end" fill="#111" >BAS</text>
<rect x="255.50" y="332.6" width="22.41" height="15.5" fill="#ffe600"/>
<rect x="277.31" y="332.6" width="7.87" height="15.5" fill="#45308a"/>
<rect x="284.58" y="332.6" width="7.87" height="15.5" fill="#b4dc20"/>
<rect x="291.85" y="332.6" width="7.87" height="15.5" fill="#45308a"/>
<rect x="299.12" y="332.6" width="7.87" height="15.5" fill="#ffe600"/>
<rect x="306.38" y="332.6" width="7.87" height="15.5" fill="#0e8890"/>
<rect x="313.65" y="332.6" width="7.87" height="15.5" fill="#5ccc3e"/>
<rect x="320.92" y="332.6" width="15.14" height="15.5" fill="#0e8890"/>
<rect x="335.46" y="332.6" width="7.87" height="15.5" fill="#ffe600"/>
<rect x="342.73" y="332.6" width="7.87" height="15.5" fill="#10a084"/>
<rect x="350.00" y="332.6" width="7.87" height="15.5" fill="#0f948e"/>
<rect x="357.27" y="332.6" width="7.87" height="15.5" fill="#b4dc20"/>
<rect x="364.54" y="332.6" width="7.87" height="15.5" fill="#ffe600"/>
<rect x="371.81" y="332.6" width="7.87" height="15.5" fill="#b4dc20"/>
<rect x="379.08" y="332.6" width="7.87" height="15.5" fill="#10a084"/>
<rect x="386.35" y="332.6" width="7.87" height="15.5" fill="#a2d820"/>
<rect x="393.62" y="332.6" width="7.87" height="15.5" fill="#ece414"/>
<rect x="400.88" y="332.6" width="7.87" height="15.5" fill="#b4dc20"/>
<rect x="408.15" y="332.6" width="7.87" height="15.5" fill="#1ec25e"/>
<rect x="415.42" y="332.6" width="7.87" height="15.5" fill="#ffe600"/>
<rect x="422.69" y="332.6" width="7.87" height="15.5" fill="#10a084"/>
<rect x="429.96" y="332.6" width="15.14" height="15.5" fill="#ffe600"/>
<rect x="444.50" y="332.6" width="7.87" height="15.5" fill="#a2d820"/>
<rect x="451.77" y="332.6" width="7.87" height="15.5" fill="#10a084"/>
<rect x="459.04" y="332.6" width="15.14" height="15.5" fill="#1ec25e"/>
<rect x="473.58" y="332.6" width="7.87" height="15.5" fill="#ffe600"/>
<rect x="480.85" y="332.6" width="36.95" height="15.5" fill="#1ec25e"/>
<rect x="517.19" y="332.6" width="7.87" height="15.5" fill="#dde21a"/>
<rect x="524.46" y="332.6" width="7.87" height="15.5" fill="#b4dc20"/>
<rect x="531.73" y="332.6" width="7.27" height="15.5" fill="#a2d820"/>
<line x1="252.2" y1="340.35" x2="255.5" y2="340.35" stroke="#222" stroke-width="0.5"/>
<text x="250.40" y="342.35" font-size="5.7" text-anchor="end" fill="#111" >BAL</text>
<rect x="255.5" y="230.6" width="283.5" height="125.5" fill="none" stroke="#333" stroke-width="0.7"/>
<line x1="259.13" y1="356.1" x2="259.13" y2="358.0" stroke="#222" stroke-width="0.5"/>
<text transform="translate(262.13 361.2) rotate(-40)" font-size="4.1" text-anchor="end" fill="#222" stroke="#222" stroke-width="0.2">Oceanobacillus</text>
<line x1="266.40" y1="356.1" x2="266.40" y2="358.0" stroke="#222" stroke-width="0.5"/>
<text transform="translate(269.40 361.2) rotate(-40)" font-size="4.1" text-anchor="end" fill="#222" stroke="#222" stroke-width="0.2">Ralstonia</text>
<line x1="273.67" y1="356.1" x2="273.67" y2="358.0" stroke="#222" stroke-width="0.5"/>
<text transform="translate(276.67 361.2) rotate(-40)" font-size="4.1" text-anchor="end" fill="#222" stroke="#222" stroke-width="0.2">Anaerosphaera</text>
<line x1="280.94" y1="356.1" x2="280.94" y2="358.0" stroke="#222" stroke-width="0.5"/>
<text transform="translate(283.94 361.2) rotate(-40)" font-size="4.1" text-anchor="end" fill="#222" stroke="#222" stroke-width="0.2">Romboutsia</text>
<line x1="288.21" y1="356.1" x2="288.21" y2="358.0" stroke="#222" stroke-width="0.5"/>
<text transform="translate(291.21 361.2) rotate(-40)" font-size="4.1" text-anchor="end" fill="#222" stroke="#222" stroke-width="0.2">Cetobacterium</text>
<line x1="295.48" y1="356.1" x2="295.48" y2="358.0" stroke="#222" stroke-width="0.5"/>
<text transform="translate(298.48 361.2) rotate(-40)" font-size="4.1" text-anchor="end" fill="#222" stroke="#222" stroke-width="0.2">Paeniclostridium</text>
<line x1="302.75" y1="356.1" x2="302.75" y2="358.0" stroke="#222" stroke-width="0.5"/>
<text transform="translate(305.75 361.2) rotate(-40)" font-size="4.1" text-anchor="end" fill="#222" stroke="#222" stroke-width="0.2">Cupriavidus</text>
<line x1="310.02" y1="356.1" x2="310.02" y2="358.0" stroke="#222" stroke-width="0.5"/>
<text transform="translate(313.02 361.2) rotate(-40)" font-size="4.1" text-anchor="end" fill="#222" stroke="#222" stroke-width="0.2">Azorhizobium</text>
<line x1="317.29" y1="356.1" x2="317.29" y2="358.0" stroke="#222" stroke-width="0.5"/>
<text transform="translate(320.29 361.2) rotate(-40)" font-size="4.1" text-anchor="end" fill="#222" stroke="#222" stroke-width="0.2">Hyphomicrobium</text>
<line x1="324.56" y1="356.1" x2="324.56" y2="358.0" stroke="#222" stroke-width="0.5"/>
<text transform="translate(327.56 361.2) rotate(-40)" font-size="4.1" text-anchor="end" fill="#222" stroke="#222" stroke-width="0.2">Lactococcus</text>
<line x1="331.83" y1="356.1" x2="331.83" y2="358.0" stroke="#222" stroke-width="0.5"/>
<text transform="translate(334.83 361.2) rotate(-40)" font-size="4.1" text-anchor="end" fill="#222" stroke="#222" stroke-width="0.2">unclassified_ _ Peptostreptococcaceae</text>
<line x1="339.10" y1="356.1" x2="339.10" y2="358.0" stroke="#222" stroke-width="0.5"/>
<text transform="translate(342.10 361.2) rotate(-40)" font-size="4.1" text-anchor="end" fill="#222" stroke="#222" stroke-width="0.2">Pseudomonas</text>
<line x1="346.37" y1="356.1" x2="346.37" y2="358.0" stroke="#222" stroke-width="0.5"/>
<text transform="translate(349.37 361.2) rotate(-40)" font-size="4.1" text-anchor="end" fill="#222" stroke="#222" stroke-width="0.2">Methylobacterium_ _ Methylorubrum</text>
<line x1="353.63" y1="356.1" x2="353.63" y2="358.0" stroke="#222" stroke-width="0.5"/>
<text transform="translate(356.63 361.2) rotate(-40)" font-size="4.1" text-anchor="end" fill="#222" stroke="#222" stroke-width="0.2">Paraclostridium</text>
<line x1="360.90" y1="356.1" x2="360.90" y2="358.0" stroke="#222" stroke-width="0.5"/>
<text transform="translate(363.90 361.2) rotate(-40)" font-size="4.1" text-anchor="end" fill="#222" stroke="#222" stroke-width="0.2">unclassified_ _ _ _ Synechococcaceae</text>
<line x1="368.17" y1="356.1" x2="368.17" y2="358.0" stroke="#222" stroke-width="0.5"/>
<text transform="translate(371.17 361.2) rotate(-40)" font-size="4.1" text-anchor="end" fill="#222" stroke="#222" stroke-width="0.2">Tabrizicola</text>
<line x1="375.44" y1="356.1" x2="375.44" y2="358.0" stroke="#222" stroke-width="0.5"/>
<text transform="translate(378.44 361.2) rotate(-40)" font-size="4.1" text-anchor="end" fill="#222" stroke="#222" stroke-width="0.2">Cyanobium</text>
<line x1="382.71" y1="356.1" x2="382.71" y2="358.0" stroke="#222" stroke-width="0.5"/>
<text transform="translate(385.71 361.2) rotate(-40)" font-size="4.1" text-anchor="end" fill="#222" stroke="#222" stroke-width="0.2">Clostridium</text>
<line x1="389.98" y1="356.1" x2="389.98" y2="358.0" stroke="#222" stroke-width="0.5"/>
<text transform="translate(392.98 361.2) rotate(-40)" font-size="4.1" text-anchor="end" fill="#222" stroke="#222" stroke-width="0.2">Turicibacter</text>
<line x1="397.25" y1="356.1" x2="397.25" y2="358.0" stroke="#222" stroke-width="0.5"/>
<text transform="translate(400.25 361.2) rotate(-40)" font-size="4.1" text-anchor="end" fill="#222" stroke="#222" stroke-width="0.2">Vibrio</text>
<line x1="404.52" y1="356.1" x2="404.52" y2="358.0" stroke="#222" stroke-width="0.5"/>
<text transform="translate(407.52 361.2) rotate(-40)" font-size="4.1" text-anchor="end" fill="#222" stroke="#222" stroke-width="0.2">Plesiomonas</text>
<line x1="411.79" y1="356.1" x2="411.79" y2="358.0" stroke="#222" stroke-width="0.5"/>
<text transform="translate(414.79 361.2) rotate(-40)" font-size="4.1" text-anchor="end" fill="#222" stroke="#222" stroke-width="0.2">Escherichia</text>
<line x1="419.06" y1="356.1" x2="419.06" y2="358.0" stroke="#222" stroke-width="0.5"/>
<text transform="translate(422.06 361.2) rotate(-40)" font-size="4.1" text-anchor="end" fill="#222" stroke="#222" stroke-width="0.2">Enterococcus</text>
<line x1="426.33" y1="356.1" x2="426.33" y2="358.0" stroke="#222" stroke-width="0.5"/>
<text transform="translate(429.33 361.2) rotate(-40)" font-size="4.1" text-anchor="end" fill="#222" stroke="#222" stroke-width="0.2">unclassified_ _ Alphaproteobacteria</text>
<line x1="433.60" y1="356.1" x2="433.60" y2="358.0" stroke="#222" stroke-width="0.5"/>
<text transform="translate(436.60 361.2) rotate(-40)" font-size="4.1" text-anchor="end" fill="#222" stroke="#222" stroke-width="0.2">Delftia</text>
<line x1="440.87" y1="356.1" x2="440.87" y2="358.0" stroke="#222" stroke-width="0.5"/>
<text transform="translate(443.87 361.2) rotate(-40)" font-size="4.1" text-anchor="end" fill="#222" stroke="#222" stroke-width="0.2">Allorhizobium</text>
<line x1="448.13" y1="356.1" x2="448.13" y2="358.0" stroke="#222" stroke-width="0.5"/>
<text transform="translate(451.13 361.2) rotate(-40)" font-size="4.1" text-anchor="end" fill="#222" stroke="#222" stroke-width="0.2">unclassified_ _ Rhodobacteraceae</text>
<line x1="455.40" y1="356.1" x2="455.40" y2="358.0" stroke="#222" stroke-width="0.5"/>
<text transform="translate(458.40 361.2) rotate(-40)" font-size="4.1" text-anchor="end" fill="#222" stroke="#222" stroke-width="0.2">unclassified_ _ Rhizobiales_ _ Incertae_ _ Sedis</text>
<line x1="462.67" y1="356.1" x2="462.67" y2="358.0" stroke="#222" stroke-width="0.5"/>
<text transform="translate(465.67 361.2) rotate(-40)" font-size="4.1" text-anchor="end" fill="#222" stroke="#222" stroke-width="0.2">ZOR0006</text>
<line x1="469.94" y1="356.1" x2="469.94" y2="358.0" stroke="#222" stroke-width="0.5"/>
<text transform="translate(472.94 361.2) rotate(-40)" font-size="4.1" text-anchor="end" fill="#222" stroke="#222" stroke-width="0.2">Candidatus_ _ Tammella</text>
<line x1="477.21" y1="356.1" x2="477.21" y2="358.0" stroke="#222" stroke-width="0.5"/>
<text transform="translate(480.21 361.2) rotate(-40)" font-size="4.1" text-anchor="end" fill="#222" stroke="#222" stroke-width="0.2">unclassified_ _ Verrucomicrobiales</text>
<line x1="484.48" y1="356.1" x2="484.48" y2="358.0" stroke="#222" stroke-width="0.5"/>
<text transform="translate(487.48 361.2) rotate(-40)" font-size="4.1" text-anchor="end" fill="#222" stroke="#222" stroke-width="0.2">Candidatus_ _ Soleaferrea</text>
<line x1="491.75" y1="356.1" x2="491.75" y2="358.0" stroke="#222" stroke-width="0.5"/>
<text transform="translate(494.75 361.2) rotate(-40)" font-size="4.1" text-anchor="end" fill="#222" stroke="#222" stroke-width="0.2">Tyzzerella</text>
<line x1="499.02" y1="356.1" x2="499.02" y2="358.0" stroke="#222" stroke-width="0.5"/>
<text transform="translate(502.02 361.2) rotate(-40)" font-size="4.1" text-anchor="end" fill="#222" stroke="#222" stroke-width="0.2">unclassified_ _ Ruminococcaceae</text>
<line x1="506.29" y1="356.1" x2="506.29" y2="358.0" stroke="#222" stroke-width="0.5"/>
<text transform="translate(509.29 361.2) rotate(-40)" font-size="4.1" text-anchor="end" fill="#222" stroke="#222" stroke-width="0.2">Christensenellaceae_ R_ _ 7_ group</text>
<line x1="513.56" y1="356.1" x2="513.56" y2="358.0" stroke="#222" stroke-width="0.5"/>
<text transform="translate(516.56 361.2) rotate(-40)" font-size="4.1" text-anchor="end" fill="#222" stroke="#222" stroke-width="0.2">Akkermansia</text>
<line x1="520.83" y1="356.1" x2="520.83" y2="358.0" stroke="#222" stroke-width="0.5"/>
<text transform="translate(523.83 361.2) rotate(-40)" font-size="4.1" text-anchor="end" fill="#222" stroke="#222" stroke-width="0.2">Bacillus</text>
<line x1="528.10" y1="356.1" x2="528.10" y2="358.0" stroke="#222" stroke-width="0.5"/>
<text transform="translate(531.10 361.2) rotate(-40)" font-size="4.1" text-anchor="end" fill="#222" stroke="#222" stroke-width="0.2">Enterobacter</text>
<line x1="535.37" y1="356.1" x2="535.37" y2="358.0" stroke="#222" stroke-width="0.5"/>
<text transform="translate(538.37 361.2) rotate(-40)" font-size="4.1" text-anchor="end" fill="#222" stroke="#222" stroke-width="0.2">unclassified_ _ Enterobacteriaceae</text>
</svg></body></html>
